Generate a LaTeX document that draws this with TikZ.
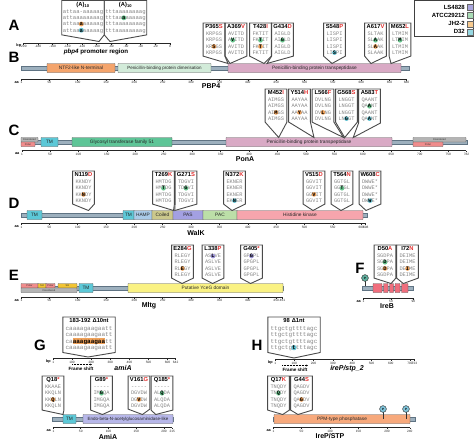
\documentclass[tikz,border=0pt]{standalone}
\usepackage{fontspec}
\setmainfont{Liberation Sans}
\setsansfont{Liberation Sans}
\newfontfamily\monof{Liberation Mono}
\usetikzlibrary{arrows.meta}
\definecolor{barfill}{HTML}{9DB0BE}
\definecolor{barline}{HTML}{5F7383}
\definecolor{domline}{HTML}{555555}
\definecolor{ntf}{HTML}{F4A46C}
\definecolor{dimer}{HTML}{D2EBD9}
\definecolor{tp}{HTML}{D9AAC5}
\definecolor{tm}{HTML}{5CC8D7}
\definecolor{gt}{HTML}{5EC597}
\definecolor{polar}{HTML}{F08C8C}
\definecolor{disord}{HTML}{B4B4B4}
\definecolor{hamp}{HTML}{AACBE8}
\definecolor{coiled}{HTML}{CBC88C}
\definecolor{pas}{HTML}{A3A0E2}
\definecolor{pac}{HTML}{BCDFA8}
\definecolor{hk}{HTML}{F6A5AD}
\definecolor{yceg}{HTML}{FAF283}
\definecolor{sh}{HTML}{F2C433}
\definecolor{endo}{HTML}{B7B7E9}
\definecolor{ppm}{HTML}{F7A97C}
\definecolor{ireb}{HTML}{F06E7D}
\definecolor{hlP}{HTML}{9A92D4}
\definecolor{hlG}{HTML}{66C38C}
\definecolor{hlO}{HTML}{F0A25A}
\definecolor{hlC}{HTML}{63C3D3}
\definecolor{swP}{HTML}{A9A5DD}
\definecolor{swG}{HTML}{A9DCB6}
\definecolor{swO}{HTML}{F8CB90}
\definecolor{swC}{HTML}{97D8E2}
\definecolor{mred}{HTML}{E2302F}
\definecolor{seqgray}{HTML}{858585}
\definecolor{boxgray}{HTML}{4A4A4A}
\definecolor{lolP}{HTML}{7FC4DA}
\definecolor{lolF}{HTML}{5FAF9E}
\newcommand\seqfont{\fontsize{5.3}{6.2}\selectfont\monof}
\newcommand\ntfont{\fontsize{6}{6.5}\selectfont\monof}
\newcommand\prfont{\fontsize{5.6}{6.2}\selectfont\monof}
\newcommand\hdrfont{\fontsize{5.8}{6.2}\selectfont\sffamily\bfseries\color{black}}
\newcommand\hd[2]{{\hdrfont #1\textcolor{mred}{#2}}\\[0.8pt]}
\newcommand\hl[2]{\rlap{\tikz[overlay]\fill[#1] (0.3em,0.32em) circle[radius=0.44em];}\textcolor{black}{\bfseries #2}}
\newcommand\hlb[3]{\rlap{\tikz[overlay]\fill[#1] (0em,-0.2em) rectangle (#2*0.6em,0.78em);}\textcolor{black}{\bfseries #3}}
\newcommand\mut[7][mutbox]{%
  \node[#1, anchor=north] (#2) at (#3,#4) {#7};
  \coordinate (#2t) at (#5,#6);
  \draw[mutln] (#2.south west) -- (#2.north west) -- (#2.north east) -- (#2.south east) -- (#2t) -- cycle;}
\newcommand\dom[8][domlab]{%
  \draw[domln, fill=#7] (#3,#5) rectangle (#4,#6);
  \node[#1] (#2) at ({(#3+#4)/2},{(#5+#6)/2}) {#8};}
\newcommand\scaleaxis[8]{%
  \coordinate (#1a) at ({#3+(#6)*#4},#2);
  \coordinate (#1b) at ({#3+(#7)*#4},#2);
  \draw[axisln] (#1a) -- (#1b);
  \foreach \v in {#5}{\draw[axisln] ({#3+(\v)*#4},#2) -- ++(0,1.6) node[ticklab, anchor=north, yshift=-0.4pt]{\v};}
  \node[unitlab, anchor=east] (#1u) at ({#3+(#6)*#4-2},{#2+3}) {#8};}
\begin{document}
\begin{tikzpicture}[x=1pt,y=-1pt,
  thinbar/.style={draw=barline, fill=barfill, line width=0.4pt},
  domln/.style={draw=domline, line width=0.45pt, rounded corners=0.4pt},
  domlab/.style={font=\fontsize{4.8}{5.4}\selectfont, text=black!85, inner sep=0},
  smalllab/.style={font=\fontsize{2.6}{3}\selectfont, text=black!80, inner sep=0},
  axisln/.style={draw=black!85, line width=0.6pt},
  ticklab/.style={font=\fontsize{3.2}{3.5}\selectfont, inner sep=0, text=black!85},
  unitlab/.style={font=\bfseries\fontsize{3.8}{4}\selectfont, inner sep=0},
  gene/.style={font=\bfseries\fontsize{7}{8}\selectfont, inner sep=0},
  panel/.style={font=\bfseries\fontsize{15}{16}\selectfont, inner sep=0},
  mutbox/.style={inner xsep=1.2pt, inner ysep=1.5pt, text width=19pt, align=center, font=\seqfont, text=seqgray},
  mutbox nt/.style={mutbox, text width=48pt, inner xsep=2pt, font=\ntfont},
  mutbox pr/.style={mutbox, text width=40.5pt, inner xsep=0.8pt, font=\prfont},
  mutln/.style={draw=boxgray, line width=0.9pt, line join=miter},
  legtxt/.style={font=\bfseries\fontsize{6}{6.5}\selectfont, inner sep=0, anchor=east},
  swatch/.style={draw=black!60, line width=0.3pt, minimum width=6.5pt, minimum height=6pt, inner sep=0},
  lolli/.style={circle, draw=black!80, line width=0.45pt, minimum size=6.8pt, inner sep=0, font=\fontsize{3}{3}\selectfont\bfseries},
  fsarrow/.style={densely dotted, line width=0.5pt, -{Stealth[length=2pt,width=1.8pt]}},
  fslab/.style={font=\bfseries\fontsize{4.6}{5}\selectfont, inner sep=0}]
\useasboundingbox (0,0) rectangle (474,442);

% ---------- legend
\node[draw=black!75, line width=1pt, minimum width=59pt, minimum height=36.5pt, inner sep=0] (legend) at (443.8,18.7) {};
\node[legtxt] (l1) at (465,7.3) {LS4828};    \node[swatch, fill=swP] (s1) at (470,7.3) {};
\node[legtxt] (l2) at (465,15.5) {ATCC29212}; \node[swatch, fill=swG] (s2) at (470,15.5) {};
\node[legtxt] (l3) at (465,23.7) {JH2-2};     \node[swatch, fill=swO] (s3) at (470,23.7) {};
\node[legtxt] (l4) at (465,31.9) {D32};       \node[swatch, fill=swC] (s4) at (470,31.9) {};

% ---------- panel letters
\node[panel] (pA) at (14,25) {A};
\node[panel] (pB) at (14,57) {B};
\node[panel] (pC) at (14,130) {C};
\node[panel] (pD) at (14,203) {D};
\node[panel] (pE) at (14,275) {E};
\node[panel] (pF) at (360,268) {F};
\node[panel] (pG) at (40,345) {G};
\node[panel] (pH) at (257,345) {H};

% ---------- A
\scaleaxis{pa}{43}{170}{0.7333}{-200,-180,-160,-140,-120,-100,-80,-60,-40,-20,0}{-200}{0}{bp}
\node[gene, font=\bfseries\fontsize{6.2}{7}\selectfont] (pbplab) at (96,52) {\textit{pbp4} promoter region};
\mut[mutbox pr]{a1}{83}{0.5}{99}{41.5}{{\hdrfont (A)\textsubscript{10}}\\[0.8pt]attaa-aaaaag\\attaaaaaaaag\\attaa\hl{hlO}{a}aaaaag\\attaa\hl{hlC}{a}aaaaag}
\mut[mutbox pr]{a2}{125.5}{0.5}{110}{41.5}{{\hdrfont (A)\textsubscript{10}}\\[0.8pt]tttaaaaaaaag\\tttaa\hl{hlG}{a}aaaaag\\tttaaaaaaaag\\tttaaaaaaaag}

% ---------- B  PBP4
\draw[thinbar] (21,66) rectangle (409,70.5);
\dom{ntfd}{47}{115}{63.5}{72.5}{ntf}{NTF2-like N-terminal}
\dom[domlab, font=\fontsize{4.5}{5}\selectfont]{dimd}{118}{211}{63.5}{72.5}{dimer}{Penicillin-binding protein dimerisation}
\dom{tpbd}{228}{401}{63.5}{72.5}{tp}{Penicillin-binding protein transpeptidase}
\scaleaxis{ba}{79}{21}{0.567}{1,50,100,150,200,250,300,350,400,450,500,550,600,650,680}{0}{680}{aa}
\node[gene] (pbp4) at (211,86.5) {PBP4};
\mut{b1}{214}{23}{228}{63.5}{\hd{P365}{S}KRPGS\\KRPGS\\KR\hl{hlO}{S}GS\\KRPGS}
\mut{b2}{236}{23}{230}{63.5}{\hd{A369}{V}AVITD\\A\hl{hlG}{V}ITD\\AVITD\\AVITD}
\mut{b3}{260.5}{23}{264}{63.5}{\hd{T428}{I}FKTIT\\FK\hl{hlG}{T}IT\\FK\hl{hlO}{T}IT\\FKTIT}
\mut{b4}{282.5}{23}{267}{63.5}{\hd{G434}{D}AIGLD\\AI\hl{hlG}{G}LD\\AIGLD\\AIGLD}
\mut{b5}{334.5}{23}{332}{63.5}{\hd{S548}{P}LISPI\\LISPI\\LISPI\\LI\hl{hlC}{S}PI}
\mut{b6}{375.5}{23}{371}{63.5}{\hd{A617}{V}SLTAK\\SL\hl{hlG}{A}AK\\SL\hl{hlO}{A}AK\\SLAAK}
\mut{b7}{400}{23}{391}{63.5}{\hd{M652}{L}LTMIM\\LT\hl{hlG}{M}IM\\LTMIM\\LTMIM}

% ---------- C  PonA
\draw[thinbar] (21,140) rectangle (467,144.5);
\dom[smalllab]{cdis1}{21}{38}{137.5}{142}{disord}{Disordered}
\dom[smalllab]{cpol1}{21}{35}{142}{146.5}{polar}{Polar}
\dom{ctm}{41}{58}{137.5}{146.5}{tm}{TM}
\dom{cgt}{72}{172}{137.5}{146.5}{gt}{Glycosyl transferase family 51}
\dom{ctp}{226}{392}{137.5}{146.5}{tp}{Penicillin-binding protein transpeptidase}
\dom[smalllab]{cdis2}{413}{466}{137.5}{142}{disord}{Disordered}
\dom[smalllab]{cpol2}{413}{443}{142}{146.5}{polar}{Polar}
\scaleaxis{ca}{150.5}{21.5}{0.569}{1,50,100,150,200,250,300,350,400,450,500,550,600,650,700,750,782}{0}{782}{aa}
\node[gene] (pona) at (245,159) {PonA};
\mut{c1}{276}{89}{278.7}{137.5}{\hd{M452}{I}AIMGS\\AIMGS\\AI\hl{hlO}{M}GS\\AIMGS}
\mut{c2}{299.5}{89}{314}{137.5}{\hd{Y514}{H}AAYAA\\AAYAA\\AA\hl{hlO}{Y}AA\\AAYAA}
\mut{c3}{323}{89}{343.6}{137.5}{\hd{L566}{F}DVLNG\\DVLNG\\DV\hl{hlO}{L}NG\\DVLNG}
\mut{c4}{346.5}{89}{344.7}{137.5}{\hd{G568}{S}LNGGT\\LNGGT\\LNGGT\\LN\hl{hlC}{G}GT}
\mut{c5}{369.5}{89}{353.2}{137.5}{\hd{A583}{T}QAANT\\QA\hl{hlG}{A}NT\\QAANT\\QA\hl{hlC}{A}NT}

% ---------- D  WalK
\draw[thinbar] (21,213) rectangle (367,217.5);
\dom{dtm1}{27}{42}{210.5}{219.5}{tm}{TM}
\dom{dtm2}{123}{134}{210.5}{219.5}{tm}{TM}
\dom{dhamp}{134}{152}{210.5}{219.5}{hamp}{HAMP}
\dom{dcoil}{152}{173}{210.5}{219.5}{coiled}{Coiled}
\dom{dpas}{173}{203}{210.5}{219.5}{pas}{PAS}
\dom{dpac}{203}{237}{210.5}{219.5}{pac}{PAC}
\dom{dhk}{237}{363}{210.5}{219.5}{hk}{Histidine kinase}
\scaleaxis{da}{223.5}{21}{0.567}{1,50,100,150,200,250,300,350,400,450,500,550,600,608}{0}{608}{aa}
\node[gene] (walk) at (196,232.5) {WalK};
\mut{d1}{83.5}{171}{88.5}{210.5}{\hd{N119}{D}KKNDY\\KKNDY\\KK\hl{hlO}{N}DY\\KKNDY}
\mut{d2}{163.5}{171}{173.5}{210.5}{\hd{T269}{K}HMTDG\\HM\hl{hlG}{T}DG\\HMTDG\\HMTDG}
\mut{d3}{186}{171}{174.7}{210.5}{\hd{G271}{S}TDGVI\\TD\hl{hlG}{G}VI\\TDGVI\\TDGVI}
\mut{d4}{234.5}{171}{232}{210.5}{\hd{N372}{K}EKNER\\EKNER\\EKNER\\EK\hl{hlC}{N}ER}
\mut{d5}{314}{171}{313}{210.5}{\hd{V515}{D}GGVIT\\GGVIT\\GG\hl{hlO}{V}IT\\GGVIT}
\mut{d6}{342}{171}{341}{210.5}{\hd{T564}{N}GGTGL\\GG\hl{hlG}{T}GL\\GGTGL\\GGTGL}
\mut{d7}{370}{171}{366}{210.5}{\hd{W608}{C}DWWE*\\DWWE*\\DWWE*\\DW\hl{hlC}{W}E*}

% ---------- E  Mltg
\draw[thinbar] (21,286) rectangle (283,290.5);
\dom[smalllab]{epol1}{21}{38}{283.5}{288}{polar}{Polar}
\dom[smalllab]{esh1}{38}{46}{283.5}{288}{sh}{SH}
\dom[smalllab]{epol2}{46}{55}{283.5}{288}{polar}{Polar}
\dom[smalllab]{esh2}{58}{77}{283.5}{288}{sh}{SH}
\dom[smalllab]{edis}{21}{77}{288}{292.5}{disord}{Disordered}
\dom{etm}{79}{93}{283.5}{292.5}{tm}{TM}
\dom{eyc}{128}{283}{283.5}{292.5}{yceg}{Putative YceG domain}
\scaleaxis{ea}{297}{21}{0.567}{1,50,100,150,200,250,300,350,400,450,461}{0}{461}{aa}
\node[gene] (mltg) at (149,306) {Mltg};
\mut{e1}{182.5}{245}{182}{283.5}{\hd{E284}{G}RLEGY\\RLEGY\\RL\hl{hlO}{E}GY\\RLEGY}
\mut{e2}{213}{245}{212.6}{283.5}{\hd{L338}{P}AS\hl{hlP}{L}VE\\ASLVE\\ASLVE\\ASLVE}
\mut{e3}{251.5}{245}{250.6}{283.5}{\hd{G405}{*}GP\hl{hlP}{G}PL\\GPGPL\\GPGPL\\GPGPL}

% ---------- F  IreB
\draw[thinbar] (362,286) rectangle (413,290.5);
\foreach \a/\b [count=\k] in {373/382,383.5/388,389.5/393.5,395/400,401.5/408}
  {\draw[domln, fill=ireb] (\a,283.5) rectangle (\b,292.5);}
\draw[line width=0.6pt, black!80] (365,286) -- (365,281.3);
\node[lolli, fill=lolF] (fph) at (365,278) {P};
\scaleaxis{fa}{298}{363}{0.56}{1,50,90}{0}{90}{aa}
\node[gene] (ireb) at (387,306.5) {IreB};
\mut{f1}{385}{245}{391}{283.5}{\hd{D50}{A}SGDPA\\SG\hl{hlG}{D}PA\\SG\hl{hlO}{D}PA\\SGDPA}
\mut{f2}{407.5}{245}{403.3}{283.5}{\hd{I72}{N}DEIME\\DEIME\\DE\hl{hlO}{I}ME\\DEIME}

% ---------- G  amiA / AmiA
\scaleaxis{ga}{358.5}{53}{0.191}{1,100,200,300,400,500,600,642}{0}{642}{bp}
\mut[mutbox nt]{g0}{89}{317}{88}{357}{{\hdrfont 183-192 Δ10nt}\\[0.8pt]caaaagaagaatt\\caaaagaagaatt\\ca\hlb{hlO}{9}{aaagaagaa}tt\\caaaagaagaatt}
\coordinate (fsg1) at (72,364.5);
\coordinate (fsg2) at (92,364.5);
\draw[fsarrow] (fsg1) -- (fsg2);
\node[fslab] (fsgl) at (81,368.5) {Frame shift};
\node[gene] (amia) at (123,367.5) {\textit{amiA}};
\draw[thinbar] (52,417) rectangle (173,421.5);
\dom{gtm}{63}{76}{414.5}{423.5}{tm}{TM}
\dom[domlab, font=\fontsize{4.5}{5}\selectfont]{gendo}{83}{173}{414.5}{423.5}{endo}{Endo-beta-N-acetylglucosaminidase-like}
\scaleaxis{gb}{427.5}{53}{0.555}{1,50,100,150,200,215}{0}{215}{aa}
\node[gene] (amiap) at (108,436.5) {AmiA};
\mut{g1}{53}{376}{63}{414.5}{\hd{Q18}{*}KKAAE\\KKQLN\\KK\hl{hlO}{Q}LN\\KKQLN}
\mut{g2}{101.5}{376}{102.4}{414.5}{\hd{G89}{*}-{}-{}-{}-{}-\\IM\hl{hlG}{G}QA\\IMGQA\\IMGQA}
\mut{g3}{139}{376}{142.4}{414.5}{\hd{V161}{G}-{}-{}-{}-{}-\\DGVDW\\DG\hl{hlO}{V}DW\\DGVDW}
\mut{g4}{162}{376}{155.7}{414.5}{\hd{Q185}{*}-{}-{}-{}-{}-\\AL\hl{hlG}{Q}DA\\ALQDA\\ALQDA}

% ---------- H  ireP/stp_2 / IreP/STP
\scaleaxis{ha}{359.5}{275}{0.193}{1,100,200,300,400,500,600,700,723}{0}{723}{bp}
\mut[mutbox nt]{h0}{294}{317}{294}{358}{{\hdrfont 98 Δ1nt}\\[0.8pt]ttgctgttttagc\\ttgctgttttagc\\ttgctgttttagc\\ttgctg\hl{hlC}{t}tttagc}
\coordinate (fsh1) at (282,365.5);
\coordinate (fsh2) at (308,365.5);
\draw[fsarrow] (fsh1) -- (fsh2);
\node[fslab] (fshl) at (295,369.5) {Frame shift};
\node[gene] (irep2) at (347,368.5) {\textit{ireP/stp\_2}};
\draw[thinbar] (273,417) rectangle (415,421.5);
\dom{hppm}{274}{410}{414.5}{423.5}{ppm}{PPM-type phosphatase}
\draw[line width=0.6pt, black!80] (383,419) -- (383,412.3);
\draw[line width=0.6pt, black!80] (406,419) -- (406,412.3);
\node[lolli, fill=lolP] (hp1) at (383,409) {P};
\node[lolli, fill=lolP] (hp2) at (406,409) {P};
\scaleaxis{hb}{427.5}{273}{0.57}{1,50,100,150,200,240}{0}{240}{aa}
\node[gene] (irep) at (330,436.5) {IreP/STP};
\mut{h1}{278.5}{376}{282.7}{414.5}{\hd{Q17}{K}TNQDY\\TN\hl{hlG}{Q}DY\\TNQDY\\TNQDY}
\mut{h2}{301.5}{376}{298}{414.5}{\hd{G44}{S}QAGDV\\QAGDV\\QA\hl{hlO}{G}DV\\QAGDV}
\end{tikzpicture}
\end{document}
